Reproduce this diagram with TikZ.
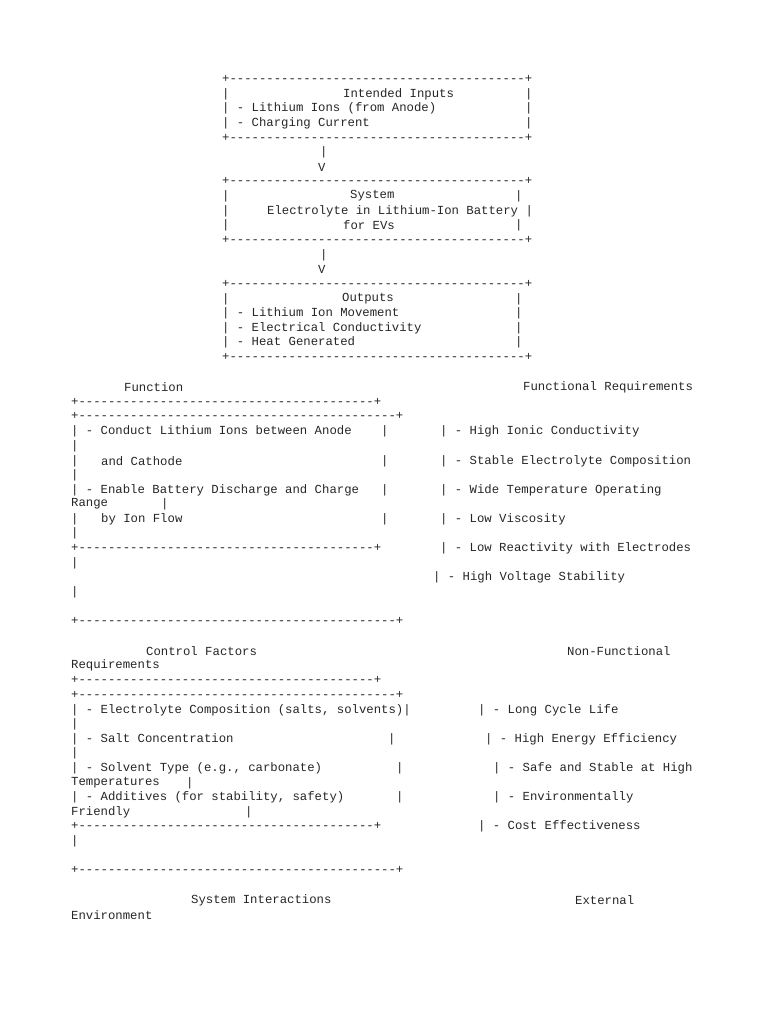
\documentclass[tikz,border=0pt]{standalone}
\usepackage{fontspec}
\newfontfamily\mono{Liberation Mono}
\begin{document}
\begin{tikzpicture}[x=1pt,y=-1pt,t/.style={anchor=west,inner sep=0pt,font=\mono\fontsize{12.3}{14}\selectfont,text=black!85}]
\useasboundingbox (0,0) rectangle (768,1024);
\def\bA{+----------------------------------------+}
\def\bB{+-------------------------------------------+}
\def\T(#1,#2)#3;{\node[t] at (#1,#2) {#3};}
% top boxes
\T(222,79){\bA};
\T(222,94){|}; \T(343,94){Intended Inputs}; \T(525,94){|};
\T(222,108){| - Lithium Ions (from Anode)}; \T(525,108){|};
\T(222,123){| - Charging Current}; \T(525,123){|};
\T(222,138){\bA};
\T(320,152){|}; \T(318,167){V};
\T(222,181){\bA};
\T(222,196){|}; \T(350,196){System}; \T(515,196){|};
\T(222,211){|}; \T(267,211){Electrolyte in Lithium-Ion Battery |};
\T(222,225){|}; \T(343,225){for EVs}; \T(515,225){|};
\T(222,240){\bA};
\T(320,255){|}; \T(318,269){V};
\T(222,284){\bA};
\T(222,299){|}; \T(342,299){Outputs}; \T(515,299){|};
\T(222,313){| - Lithium Ion Movement}; \T(515,313){|};
\T(222,328){| - Electrical Conductivity}; \T(515,328){|};
\T(222,342){| - Heat Generated}; \T(515,342){|};
\T(222,357){\bA};
% function section
\T(124,387){Function}; \T(523,387){Functional Requirements};
\T(71,402){\bA};
\T(71,416){\bB};
\T(71,431){| - Conduct Lithium Ions between Anode}; \T(381,431){|}; \T(440,431){| - High Ionic Conductivity};
\T(71,446){|};
\T(71,461){|}; \T(101,461){and Cathode}; \T(381,461){|}; \T(440,461){| - Stable Electrolyte Composition};
\T(71,475){|};
\T(71,490){| - Enable Battery Discharge and Charge}; \T(381,490){|}; \T(440,490){| - Wide Temperature Operating};
\T(71,504){Range}; \T(161,504){|};
\T(71,519){|}; \T(101,519){by Ion Flow}; \T(381,519){|}; \T(440,519){| - Low Viscosity};
\T(71,533){|};
\T(71,548){\bA}; \T(440,548){| - Low Reactivity with Electrodes};
\T(71,563){|};
\T(433,577){| - High Voltage Stability};
\T(71,592){|};
\T(71,621){\bB};
% control section
\T(146,651){Control Factors}; \T(567,651){Non-Functional};
\T(71,665){Requirements};
\T(71,680){\bA};
\T(71,695){\bB};
\T(71,710){| - Electrolyte Composition (salts, solvents)|}; \T(478,710){| - Long Cycle Life};
\T(71,724){|};
\T(71,739){| - Salt Concentration}; \T(388,739){|}; \T(485,739){| - High Energy Efficiency};
\T(71,753){|};
\T(71,768){| - Solvent Type (e.g., carbonate)}; \T(396,768){|}; \T(493,768){| - Safe and Stable at High};
\T(71,783){Temperatures}; \T(186,783){|};
\T(71,797){| - Additives (for stability, safety)}; \T(396,797){|}; \T(493,797){| - Environmentally};
\T(71,812){Friendly}; \T(245,812){|};
\T(71,826){\bA}; \T(478,826){| - Cost Effectiveness};
\T(71,841){|};
\T(71,870){\bB};
\T(191,900){System Interactions}; \T(575,900){External};
\T(71,915){Environment};
\end{tikzpicture}
\end{document}
